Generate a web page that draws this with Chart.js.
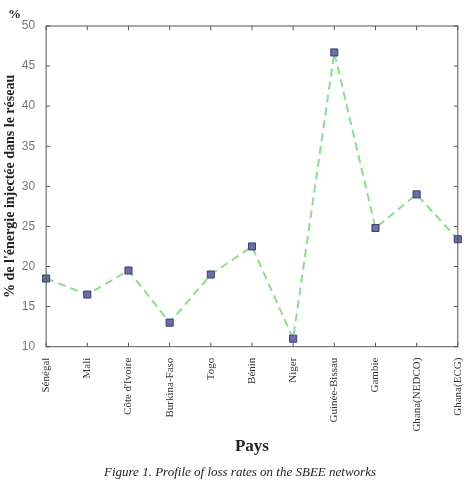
<!DOCTYPE html>
<html><head><meta charset="utf-8">
<script src="https://cdn.jsdelivr.net/npm/chart.js@4"></script>
<style>html,body{margin:0;padding:0;background:#fff}#wrap{width:474px;height:481px;position:relative}</style>
</head><body><div id="wrap"><canvas id="lossChart"></canvas></div>
<script>
const pays = ["Sénégal", "Mali", "Côte d'Ivoire", "Burkina-Faso", "Togo", "Bénin", "Niger", "Guinée-Bissau", "Gambie", "Ghana(NEDCO)", "Ghana(ECG)"];
const pertes = [18.5, 16.5, 19.5, 13.0, 19.0, 22.5, 11.0, 46.7, 24.8, 29.0, 23.4];
const yTicks = [10, 15, 20, 25, 30, 35, 40, 45, 50];

const frame = {
	id: "frame",
	afterDraw(chart) {
		const c = chart.ctx, a = chart.chartArea;
		const x = chart.scales.x, y = chart.scales.y;
		c.save();
		c.strokeStyle = "#555";
		c.lineWidth = 1;
		c.strokeRect(a.left, a.top, a.right - a.left, a.bottom - a.top);
		c.beginPath();
		pays.forEach((p, i) => {
			const px = x.getPixelForValue(i);
			c.moveTo(px, a.bottom); c.lineTo(px, a.bottom - 4);
			c.moveTo(px, a.top); c.lineTo(px, a.top + 4);
		});
		yTicks.forEach((v) => {
			const py = y.getPixelForValue(v);
			c.moveTo(a.left, py); c.lineTo(a.left + 4, py);
			c.moveTo(a.right, py); c.lineTo(a.right - 4, py);
		});
		c.stroke();
		c.fillStyle = "#222";
		c.font = "bold 13px 'Liberation Serif'";
		c.textAlign = "left";
		c.fillText("%", 8, 18);
		c.font = "italic 13px 'Liberation Serif'";
		c.textAlign = "center";
		c.fillText("Figure 1. Profile of loss rates on the SBEE networks", 240, 476);
		c.restore();
	},
};

new Chart(document.getElementById("lossChart"), {
	type: "line",
	data: {
		labels: pays,
		datasets: [{
			data: pertes,
			borderColor: "#8edc8e",
			borderWidth: 2,
			borderDash: [8, 5],
			pointStyle: "rect",
			pointRadius: 5,
			pointBackgroundColor: "#6a6fa8",
			pointBorderColor: "#3a3d70",
			pointBorderWidth: 1,
			tension: 0,
		}],
	},
	options: {
		responsive: true,
		maintainAspectRatio: false,
		animation: false,
		layout: { padding: { left: 2, right: 16, top: 26, bottom: 20 } },
		plugins: { legend: { display: false }, tooltip: { enabled: false } },
		scales: {
			x: {
				offset: false,
				grid: { display: false },
				border: { display: false },
				ticks: { maxRotation: 90, minRotation: 90, autoSkip: false, color: "#333", font: { family: "Liberation Serif", size: 11 } },
				title: { display: true, text: "Pays", color: "#222", font: { family: "Liberation Serif", size: 17, weight: "bold" }, padding: { top: 2 } },
			},
			y: {
				min: 10, max: 50,
				grid: { display: false },
				border: { display: false },
				afterBuildTicks: (s) => { s.ticks = yTicks.map((v) => ({ value: v })); },
				ticks: { color: "#777", font: { family: "Liberation Sans", size: 12 } },
				title: { display: true, text: "% de l'énergie injectée dans le réseau", color: "#222", font: { family: "Liberation Serif", size: 14, weight: "bold" }, padding: 0 },
			},
		},
	},
	plugins: [frame],
});
</script></body></html>
